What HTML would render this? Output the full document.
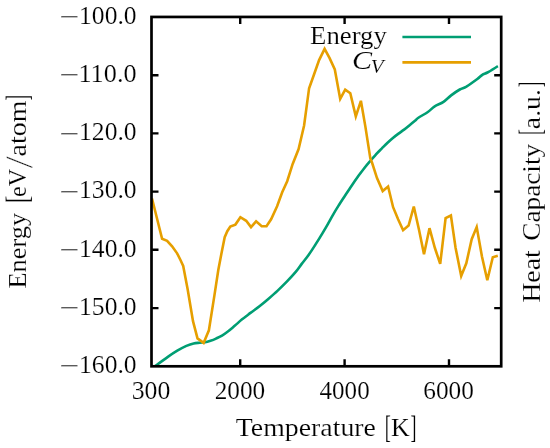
<!DOCTYPE html>
<html><head><meta charset="utf-8"><title>Energy and Heat Capacity</title>
<style>
html,body{margin:0;padding:0;background:#fff;}
svg{display:block;}
text{font-family:"Liberation Serif",serif;fill:#000;stroke:#fff;stroke-width:0.18px;}
</style></head><body>
<svg width="550" height="448" viewBox="0 0 550 448">
<rect width="550" height="448" fill="#fff"/>
<defs><clipPath id="c"><rect x="151.5" y="16.95" width="349.7" height="349.35"/></clipPath></defs>
<path d="M151.5 75.2h7 M501.2 75.2h-7 M151.5 133.4h7 M501.2 133.4h-7 M151.5 191.6h7 M501.2 191.6h-7 M151.5 249.8h7 M501.2 249.8h-7 M151.5 308.1h7 M501.2 308.1h-7 M240.2 366.3v-7 M240.2 16.95v7 M344.6 366.3v-7 M344.6 16.95v7 M449.0 366.3v-7 M449.0 16.95v7" stroke="#000" stroke-width="2.4" fill="none"/>
<g clip-path="url(#c)" fill="none" stroke-width="2.6" stroke-linejoin="miter">
<path d="M152.5 367.6C153.3 367.1 154.7 366.3 157.3 364.5C159.9 362.7 164.9 358.9 168.2 356.6C171.5 354.3 174.3 352.5 177.3 350.7C180.3 348.9 183.7 347.1 186.4 345.9C189.1 344.7 191.4 343.9 193.6 343.4C195.8 342.9 197.9 342.9 199.8 342.7C201.7 342.5 203.2 342.6 205.0 342.3C206.8 342.0 208.7 341.4 210.5 340.8C212.3 340.2 214.1 339.5 216.0 338.6C217.9 337.7 220.0 336.8 222.0 335.6C224.0 334.4 226.0 332.9 228.2 331.2C230.4 329.5 232.7 327.5 235.0 325.6C237.3 323.7 239.2 321.7 241.8 319.6C244.4 317.5 247.5 315.2 250.5 312.9C253.5 310.6 256.8 308.4 259.8 306.0C262.8 303.6 265.6 301.3 268.6 298.7C271.6 296.1 274.7 293.4 277.7 290.6C280.7 287.8 283.8 284.8 286.8 281.7C289.8 278.6 293.0 275.2 295.5 272.2C298.0 269.2 299.6 266.7 301.7 263.9C303.8 261.1 306.2 258.3 308.4 255.2C310.6 252.1 312.9 248.6 315.1 245.1C317.3 241.6 319.7 237.8 321.8 234.3C323.9 230.8 325.8 227.6 327.7 224.3C329.6 221.1 331.2 217.9 333.0 214.8C334.8 211.7 336.4 209.1 338.4 205.9C340.4 202.7 342.9 198.9 345.1 195.5C347.3 192.1 349.6 188.8 351.8 185.5C354.0 182.2 356.3 178.9 358.5 175.8C360.7 172.8 363.0 169.8 365.0 167.2C367.0 164.6 368.7 162.7 370.6 160.5C372.5 158.3 374.4 156.2 376.2 154.2C378.0 152.2 379.8 150.5 381.7 148.6C383.6 146.7 385.4 144.8 387.3 143.0C389.2 141.2 391.0 139.6 392.9 138.0C394.8 136.4 396.6 135.0 398.5 133.6C400.4 132.2 402.2 131.0 404.1 129.6C406.0 128.2 407.8 126.7 409.6 125.2C411.4 123.7 413.5 122.0 415.0 120.8C416.5 119.6 416.2 119.3 418.4 117.8C420.6 116.3 425.5 113.6 428.2 111.7C430.9 109.8 432.1 107.9 434.7 106.3C437.2 104.7 440.8 103.7 443.5 101.9C446.2 100.1 448.4 97.5 451.1 95.4C453.8 93.3 457.2 91.0 459.8 89.5C462.4 88.0 463.5 88.3 466.4 86.6C469.3 84.8 474.6 81.0 477.3 79.0C480.0 77.0 480.6 75.9 482.3 74.8C484.0 73.7 484.9 73.9 487.5 72.5C490.1 71.1 496.2 67.2 497.9 66.2" stroke="#009e73"/>
<polyline points="152.0,198.5 162.1,238.8 167.1,240.8 172.1,246.3 177.1,253.3 180.7,260.5 183.2,266.0 187.6,289.1 193.0,321.2 197.5,338.4 203.6,342.9 208.9,330.3 214.3,296.1 218.3,270.0 221.3,254.3 224.7,237.2 227.3,231.2 230.3,226.6 235.4,224.6 240.4,217.2 246.2,220.8 251.0,227.1 256.1,221.3 261.7,226.3 266.5,226.3 271.1,219.3 277.1,206.3 282.2,192.2 287.2,181.2 292.6,164.2 298.6,149.0 304.1,125.5 309.1,88.2 314.1,74.2 319.1,60.1 324.6,48.9 329.6,58.1 334.8,69.5 340.2,98.9 345.2,89.6 350.3,93.2 355.8,116.4 360.9,100.8 365.3,126.1 370.3,158.2 372.0,162.5 377.0,178.1 382.7,191.1 388.1,186.5 393.1,207.2 398.1,219.2 403.1,230.2 408.6,225.5 413.8,206.5 419.0,229.7 424.0,254.2 429.5,228.2 434.9,248.0 440.2,263.9 445.6,218.0 450.9,215.5 455.6,248.0 461.2,275.9 466.3,263.3 471.7,239.2 476.7,227.1 481.9,256.2 487.3,280.3 492.8,257.2 497.8,255.8" stroke="#e69f00"/>
</g>
<path d="M402.4 36.95H471" stroke="#009e73" stroke-width="2.6"/>
<path d="M402.4 62.4H471" stroke="#e69f00" stroke-width="2.6"/>
<rect x="151.5" y="16.95" width="349.7" height="349.35" fill="none" stroke="#000" stroke-width="2.7"/>
<text font-size="24.5"><tspan x="59.60" y="25.05" textLength="20.01" lengthAdjust="spacingAndGlyphs">−</tspan><tspan x="79.09" y="23.65" textLength="57.51" lengthAdjust="spacingAndGlyphs">100.0</tspan></text>
<text font-size="24.5"><tspan x="59.60" y="83.28" textLength="20.01" lengthAdjust="spacingAndGlyphs">−</tspan><tspan x="78.47" y="81.88" textLength="58.11" lengthAdjust="spacingAndGlyphs">110.0</tspan></text>
<text font-size="24.5"><tspan x="59.60" y="141.50" textLength="20.01" lengthAdjust="spacingAndGlyphs">−</tspan><tspan x="79.09" y="140.10" textLength="57.51" lengthAdjust="spacingAndGlyphs">120.0</tspan></text>
<text font-size="24.5"><tspan x="59.60" y="199.73" textLength="20.01" lengthAdjust="spacingAndGlyphs">−</tspan><tspan x="79.09" y="198.33" textLength="57.51" lengthAdjust="spacingAndGlyphs">130.0</tspan></text>
<text font-size="24.5"><tspan x="59.60" y="257.95" textLength="20.01" lengthAdjust="spacingAndGlyphs">−</tspan><tspan x="79.09" y="256.55" textLength="57.51" lengthAdjust="spacingAndGlyphs">140.0</tspan></text>
<text font-size="24.5"><tspan x="59.60" y="316.17" textLength="20.01" lengthAdjust="spacingAndGlyphs">−</tspan><tspan x="79.09" y="314.77" textLength="57.51" lengthAdjust="spacingAndGlyphs">150.0</tspan></text>
<text font-size="24.5"><tspan x="59.60" y="374.40" textLength="20.01" lengthAdjust="spacingAndGlyphs">−</tspan><tspan x="79.09" y="373.00" textLength="57.51" lengthAdjust="spacingAndGlyphs">160.0</tspan></text>
<text font-size="24.5"><tspan x="131.72" y="398.60" textLength="38.64" lengthAdjust="spacingAndGlyphs">300</tspan></text>
<text font-size="24.5"><tspan x="214.65" y="398.60" textLength="50.63" lengthAdjust="spacingAndGlyphs">2000</tspan></text>
<text font-size="24.5"><tspan x="319.58" y="398.60" textLength="50.09" lengthAdjust="spacingAndGlyphs">4000</tspan></text>
<text font-size="24.5"><tspan x="423.23" y="398.60" textLength="50.64" lengthAdjust="spacingAndGlyphs">6000</tspan></text>
<text font-size="24.5"><tspan x="235.79" y="436.40" textLength="140.11" lengthAdjust="spacingAndGlyphs">Temperature</tspan> <tspan x="384.78" y="438.20" textLength="6.09" lengthAdjust="spacingAndGlyphs" font-size="30.5">[</tspan><tspan x="390.91" y="436.40" textLength="18.68" lengthAdjust="spacingAndGlyphs">K</tspan><tspan x="410.40" y="438.20" textLength="5.99" lengthAdjust="spacingAndGlyphs" font-size="30.5">]</tspan></text>
<text transform="translate(25.9 287.7) rotate(-90)" font-size="24.5"><tspan x="-0.90" y="0.00" textLength="75.78" lengthAdjust="spacingAndGlyphs">Energy</tspan> <tspan x="84.68" y="1.80" textLength="7.16" lengthAdjust="spacingAndGlyphs" font-size="30.5">[</tspan><tspan x="90.79" y="0.00" textLength="28.19" lengthAdjust="spacingAndGlyphs">eV</tspan></text><text transform="translate(25.9 287.7) rotate(-90) translate(119.64 0) translate(0 5.6) skewX(-7.9) scale(1 1.57)" font-size="24.5" textLength="7.89" lengthAdjust="spacingAndGlyphs">/</text><text transform="translate(25.9 287.7) rotate(-90)" font-size="24.5"><tspan x="131.29" y="0.00" textLength="55.78" lengthAdjust="spacingAndGlyphs">atom</tspan><tspan x="187.12" y="1.80" textLength="5.48" lengthAdjust="spacingAndGlyphs" font-size="30.5">]</tspan></text>
<text transform="translate(539.6 301.5) rotate(-90)" font-size="24.5"><tspan x="-1.23" y="0.00" textLength="52.52" lengthAdjust="spacingAndGlyphs">Heat</tspan> <tspan x="60.70" y="0.00" textLength="96.97" lengthAdjust="spacingAndGlyphs">Capacity</tspan> <tspan x="166.69" y="1.80" textLength="5.74" lengthAdjust="spacingAndGlyphs" font-size="30.5">[</tspan><tspan x="172.33" y="0.00" textLength="40.13" lengthAdjust="spacingAndGlyphs">a.u.</tspan><tspan x="214.58" y="1.80" textLength="5.08" lengthAdjust="spacingAndGlyphs" font-size="30.5">]</tspan></text>
<text font-size="24.5"><tspan x="310.11" y="43.50" textLength="76.76" lengthAdjust="spacingAndGlyphs">Energy</tspan></text>
<text font-size="24.5"><tspan x="352.11" y="68.60" textLength="20.11" lengthAdjust="spacingAndGlyphs" font-size="25" font-style="italic">C</tspan><tspan x="370.68" y="73.40" textLength="12.82" lengthAdjust="spacingAndGlyphs" font-size="18.5" font-style="italic">V</tspan></text>
</svg>
</body></html>
